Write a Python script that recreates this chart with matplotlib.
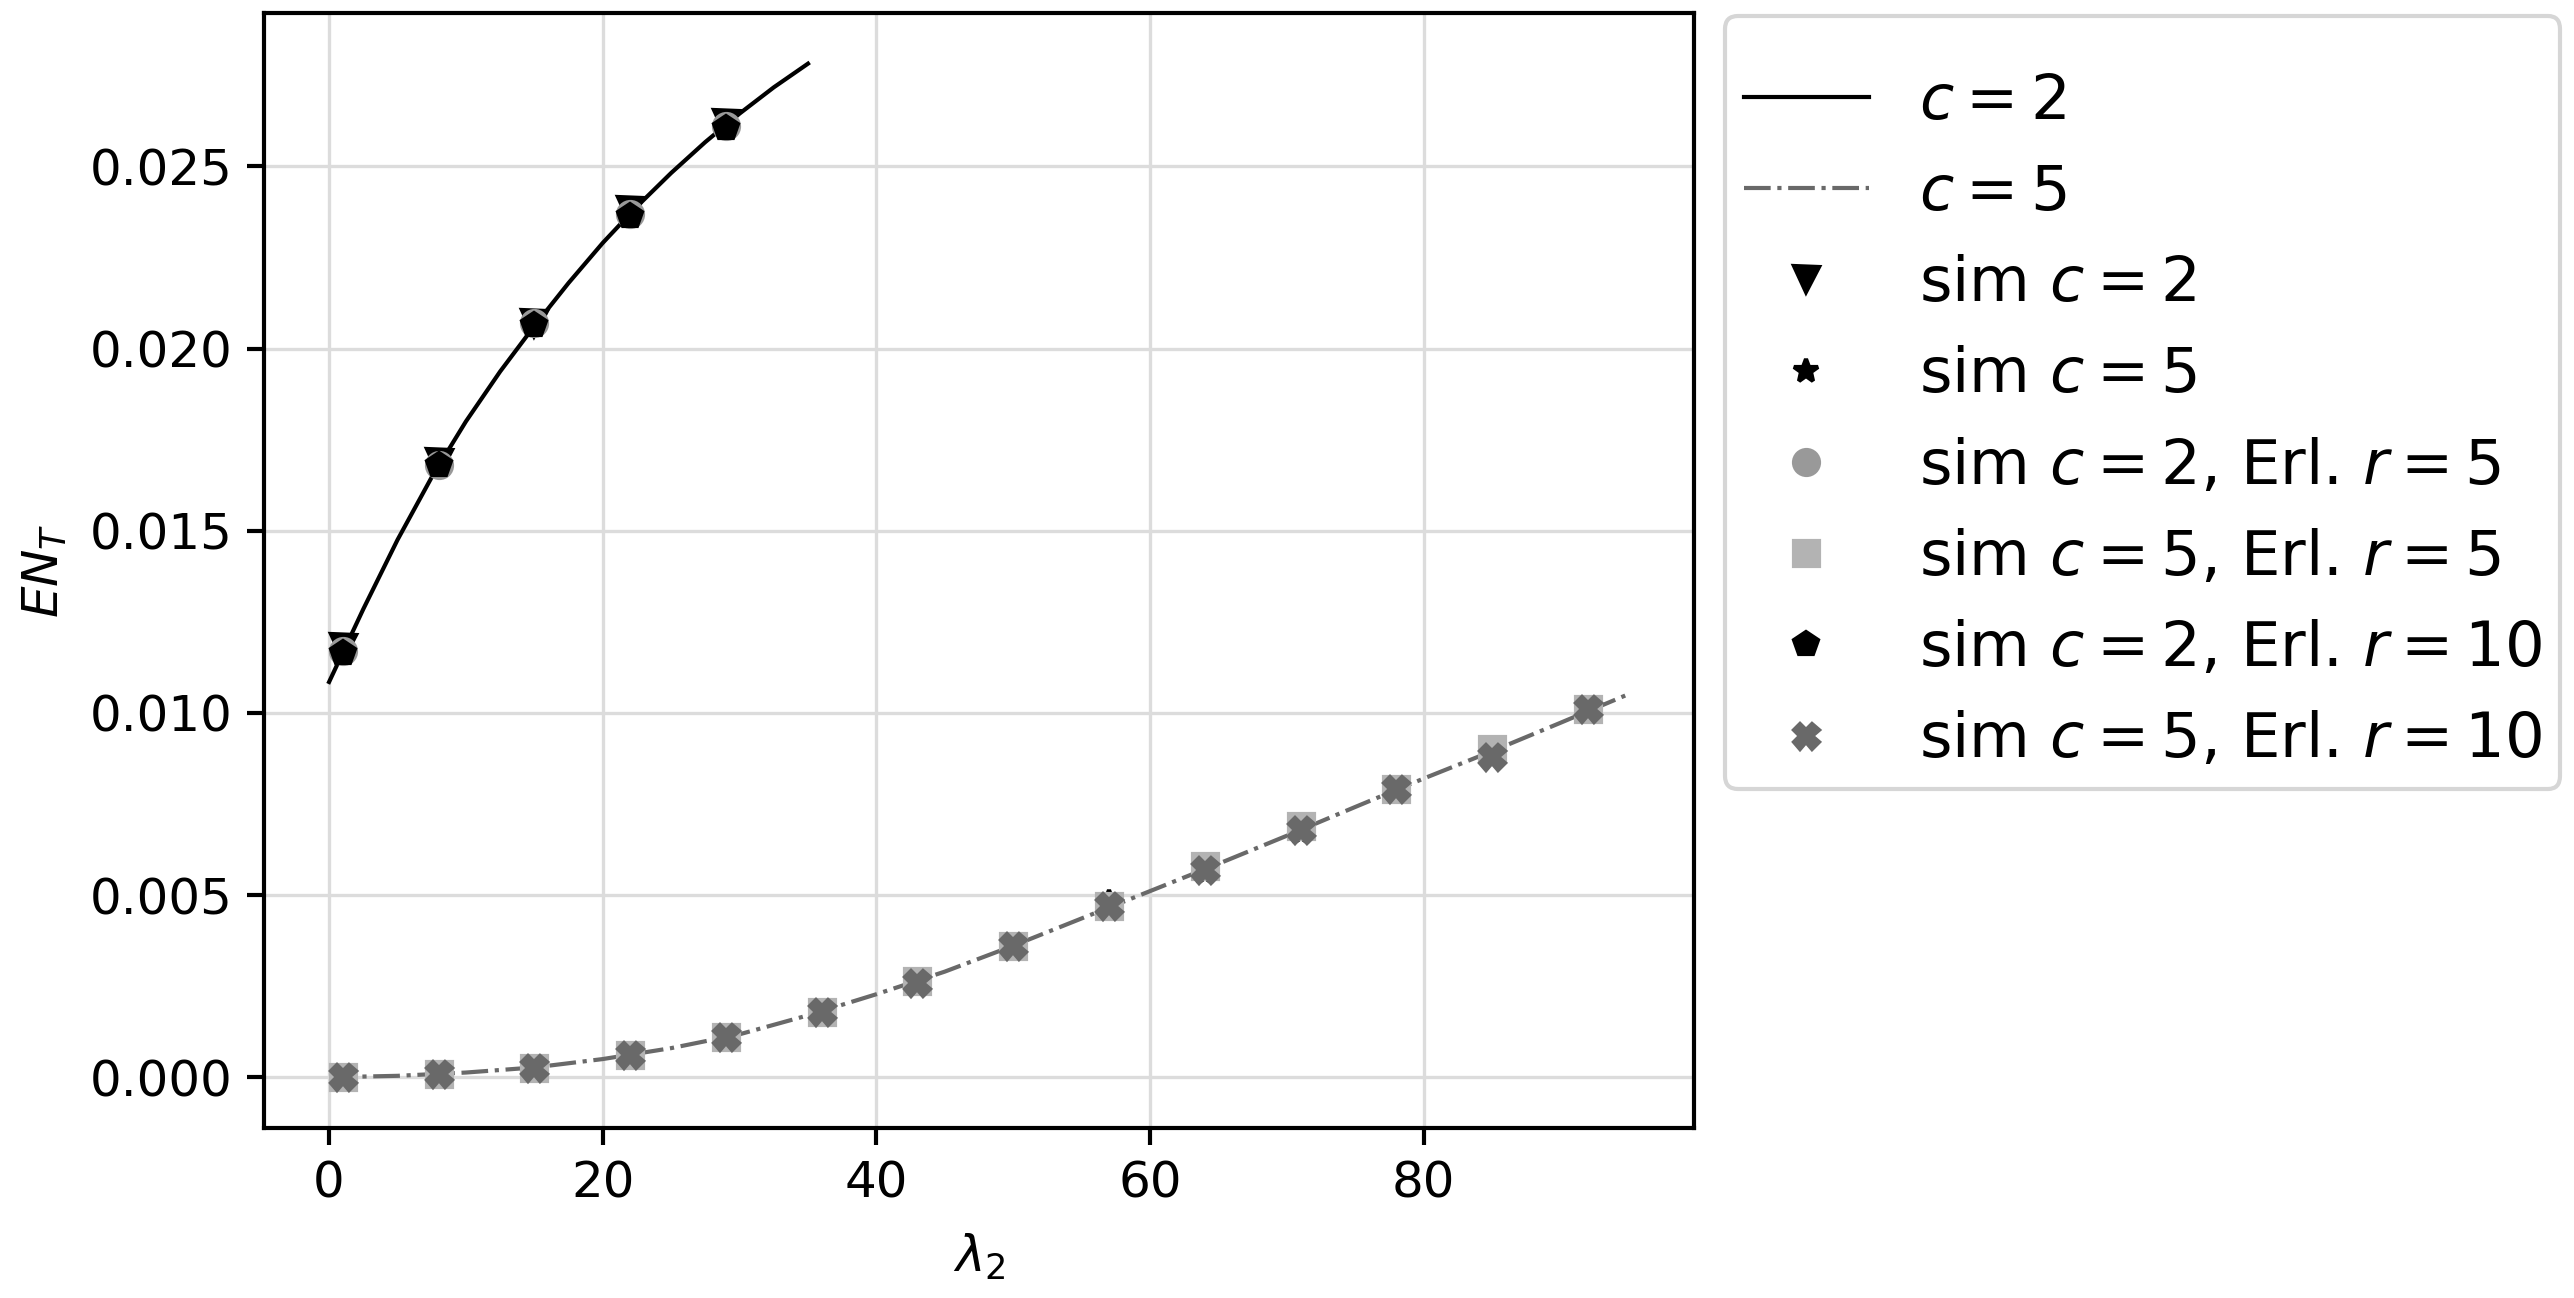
import matplotlib.pyplot as plt
import numpy as np

# analytic curves
lam_c2 = [0, 2.5, 5, 7.5, 10, 12.5, 15, 17.5, 20, 22.5, 25, 27.5, 30, 32.5, 35]
en_c2 = [0.01085, 0.01285, 0.01475, 0.01647, 0.01800, 0.01937, 0.02062, 0.02180,
         0.02290, 0.02390, 0.02482, 0.02567, 0.02645, 0.02717, 0.02782]

lam_c5 = [0, 5, 10, 15, 20, 25, 30, 35, 40, 45, 50, 55, 60, 65, 70, 75, 80, 85, 90, 95]
en_c5 = [0.0, 0.00004, 0.00013, 0.00027, 0.00050, 0.00080, 0.00118, 0.00170,
         0.00228, 0.00290, 0.00361, 0.00436, 0.00511, 0.00586, 0.00663,
         0.00742, 0.00820, 0.00895, 0.00973, 0.01052]

# simulation points
lam_sim_c2 = [1, 8, 15, 22, 29]
sim_c2 = [0.0118, 0.0169, 0.0207, 0.0238, 0.0262]
sim_c2_erl5 = [0.0117, 0.0168, 0.0207, 0.0237, 0.0261]
sim_c2_erl10 = [0.01164, 0.01681, 0.02065, 0.02363, 0.02605]

lam_sim_c5 = [1, 8, 15, 22, 29, 36, 43, 50, 57, 64, 71, 78, 85, 92]
sim_c5 = [0.0, 0.0001, 0.00025, 0.0006, 0.0011, 0.0018, 0.0026, 0.0036,
          0.0048, 0.0056, 0.0067, 0.0079, 0.0089, 0.0101]
sim_c5_erl5 = [0.0, 0.0001, 0.00025, 0.0006, 0.0011, 0.0018, 0.00265, 0.0036,
               0.0047, 0.0058, 0.0069, 0.0079, 0.0090, 0.0101]
sim_c5_erl10 = [0.0, 0.0001, 0.00025, 0.0006, 0.0011, 0.0018, 0.0026, 0.0036,
                0.0047, 0.0057, 0.0068, 0.0079, 0.0088, 0.0101]


def plot_en():
    fig = plt.figure(figsize=(2574 / 300, 1298 / 300), dpi=300)
    ax = fig.add_axes([0.1026, 0.131, 0.5555, 0.859])

    ax.plot(lam_c2, en_c2, color='black', lw=1.0, label='$c=2$')
    ax.plot(lam_c5, en_c5, color='dimgray', lw=1.0, ls='-.', label='$c=5$')

    ax.plot(lam_sim_c2, sim_c2, 'v', color='black', ms=6, label='sim $c=2$')
    ax.plot(lam_sim_c5, sim_c5, '*', color='black', ms=6, label='sim $c=5$')
    ax.plot(lam_sim_c2, sim_c2_erl5, 'o', color='#999999', ms=6,
            label='sim $c=2$, Erl. $r=5$')
    ax.plot(lam_sim_c5, sim_c5_erl5, 's', color='#b3b3b3', ms=6,
            label='sim $c=5$, Erl. $r=5$')
    ax.plot(lam_sim_c2, sim_c2_erl10, 'p', color='black', ms=6,
            label='sim $c=2$, Erl. $r=10$')
    ax.plot(lam_sim_c5, sim_c5_erl10, 'X', color='dimgray', ms=6,
            label='sim $c=5$, Erl. $r=10$')

    ax.grid(True, color='#dcdcdc', lw=0.8)
    ax.set_axisbelow(True)
    for s in ax.spines.values():
        s.set_linewidth(1.0)
    ax.tick_params(labelsize=12, width=1.0, length=4)
    ax.set_xlabel(r'$\lambda_2$', fontsize=12, labelpad=6)
    ax.set_ylabel(r'$EN_T$', fontsize=12, labelpad=5)

    # blank tiny title just to get the extra top padding seen in the original
    ax.legend(loc='upper left', bbox_to_anchor=(1.022, 0.997), fontsize=15,
              handlelength=2.0, borderaxespad=0.0, borderpad=0.29,
              title=' ', title_fontsize=1.7)

    fig.savefig('out.png', dpi=300)


if __name__ == '__main__':
    plot_en()
